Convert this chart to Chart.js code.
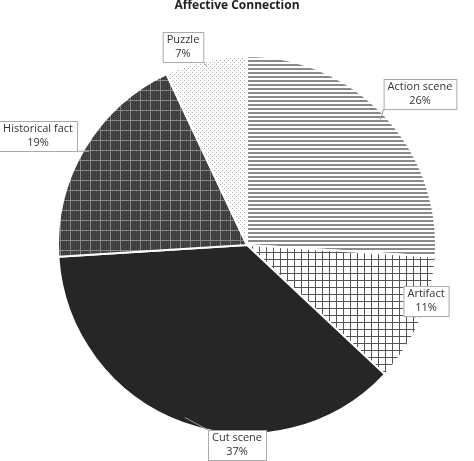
<!DOCTYPE html>
<html>
<head>
<script src="https://cdn.jsdelivr.net/npm/chart.js@4"></script>
<style>
  body { margin: 0; background: #fff; }
  #wrap { width: 474px; height: 461px; }
</style>
</head>
<body>
<div id="wrap"><canvas id="grafico"></canvas></div>
<script>
// dados do grafico
const categorias = ['Action scene', 'Artifact', 'Cut scene', 'Historical fact', 'Puzzle'];
const valores = [26, 11, 37, 19, 7];
const rotulos = ['26%', '11%', '37%', '19%', '7%'];

// posicoes das caixas de rotulo
const caixas = [[420, 94], [426, 301], [237, 445], [38, 136], [183, 47]];

function padrao(tam, desenhar) {
    const c = document.createElement('canvas');
    c.width = tam; c.height = tam;
    const ctx = c.getContext('2d');
    desenhar(ctx);
    return ctx.createPattern(c, 'repeat');
}

const ctxTmp = document.createElement('canvas').getContext('2d');
const padroes = [
    padrao(4, g => { g.fillStyle = '#fff'; g.fillRect(0, 0, 4, 4); g.fillStyle = '#8a8a8a'; g.fillRect(0, 0, 4, 2); }),
    padrao(7, g => { g.fillStyle = '#fff'; g.fillRect(0, 0, 7, 7); g.fillStyle = '#555'; g.fillRect(0, 0, 7, 1); g.fillRect(0, 0, 1, 7); }),
    '#262626',
    padrao(10, g => {
        g.fillStyle = '#3a3a3a'; g.fillRect(0, 0, 10, 10);
        g.fillStyle = '#555'; for (let i = 0; i < 10; i += 2) for (let j = (i / 2) % 2; j < 10; j += 2) g.fillRect(i, j, 1, 1);
        g.fillStyle = '#888'; g.fillRect(0, 0, 10, 1); g.fillRect(0, 0, 1, 10);
    }),
    padrao(4, g => { g.fillStyle = '#fff'; g.fillRect(0, 0, 4, 4); g.fillStyle = '#b0b0b0'; g.fillRect(0, 0, 1, 1); g.fillRect(2, 2, 1, 1); })
];

const rotulosPlugin = {
    id: 'rotulos',
    afterDraw(chart) {
        const ctx = chart.ctx;
        ctx.save();
        ctx.fillStyle = '#222';
        ctx.font = 'bold 12px "Open Sans", sans-serif';
        ctx.textAlign = 'center';
        ctx.textBaseline = 'top';
        ctx.fillText('Affective Connection', 237, 0);
        ctx.font = '11px "Open Sans", sans-serif';
        const meta = chart.getDatasetMeta(0);
        meta.data.forEach((arco, i) => {
            const [x, y] = caixas[i];
            const l1 = categorias[i], l2 = rotulos[i];
            const w = Math.max(ctx.measureText(l1).width, ctx.measureText(l2).width) + 8;
            const h = 30;
            // linha de chamada
            const ang = (arco.startAngle + arco.endAngle) / 2;
            const px = arco.x + Math.cos(ang) * arco.outerRadius * 0.97;
            const py = arco.y + Math.sin(ang) * arco.outerRadius * 0.97;
            ctx.strokeStyle = '#999';
            ctx.lineWidth = 1;
            ctx.beginPath();
            ctx.moveTo(px, py);
            ctx.lineTo(Math.min(Math.max(px, x - w / 2), x + w / 2), Math.min(Math.max(py, y - h / 2), y + h / 2));
            ctx.stroke();
            ctx.fillStyle = '#fff';
            ctx.fillRect(x - w / 2, y - h / 2, w, h);
            ctx.strokeStyle = '#aaa';
            ctx.strokeRect(x - w / 2 + 0.5, y - h / 2 + 0.5, w, h);
            ctx.fillStyle = '#333';
            ctx.textBaseline = 'middle';
            ctx.fillText(l1, x, y - 7);
            ctx.fillText(l2, x, y + 7);
        });
        ctx.restore();
    }
};

new Chart(document.querySelector('#grafico'), {
    type: 'pie',
    data: {
        labels: categorias,
        datasets: [{
            data: valores,
            backgroundColor: padroes,
            borderColor: '#fff',
            borderWidth: 2
        }]
    },
    options: {
        responsive: true,
        maintainAspectRatio: false,
        animation: false,
        layout: { padding: { top: 55, bottom: 26, left: 57, right: 37 } },
        plugins: { legend: { display: false }, tooltip: { enabled: false } }
    },
    plugins: [rotulosPlugin]
});
</script>
</body>
</html>
